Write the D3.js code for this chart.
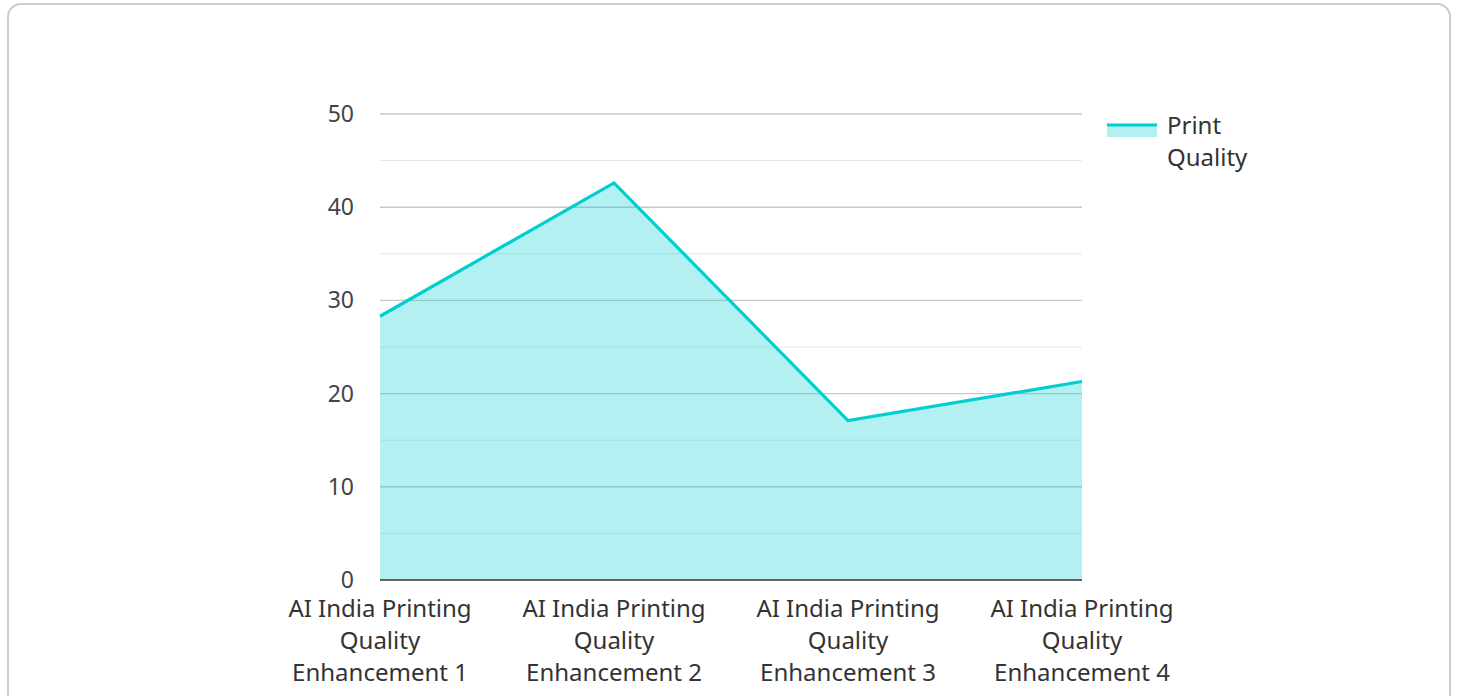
<!DOCTYPE html>
<html><head><meta charset="utf-8">
<script src="https://cdn.jsdelivr.net/npm/d3@7/dist/d3.min.js"></script>
<style>
html,body{margin:0;padding:0;background:#fff;}
svg{display:block;font-family:"Noto Sans","Open Sans",sans-serif;}
</style></head>
<body>
<svg id="chart" width="1458" height="696"></svg>
<script>
const categories = ["AI India Printing Quality Enhancement 1","AI India Printing Quality Enhancement 2","AI India Printing Quality Enhancement 3","AI India Printing Quality Enhancement 4"];
const categoryLines = [["AI India Printing","Quality","Enhancement 1"],["AI India Printing","Quality","Enhancement 2"],["AI India Printing","Quality","Enhancement 3"],["AI India Printing","Quality","Enhancement 4"]];
const seriesName = ["Print","Quality"];
const printQuality = [28.3, 42.6, 17.1, 21.3];
const yTicks = [0,10,20,30,40,50];
const yMinorTicks = [5,15,25,35,45];

const svg = d3.select("#chart");
svg.append("rect").attr("x",8).attr("y",4).attr("width",1442).attr("height",720)
  .attr("rx",13).attr("fill","#fff").attr("stroke","#cccccc").attr("stroke-width",2);

const x = d3.scalePoint().domain(categories).range([380,1082]);
const y = d3.scaleLinear().domain([0,50]).range([580,114]);

const g = svg.append("g");
g.selectAll(".minor").data(yMinorTicks).join("line")
  .attr("x1",380).attr("x2",1082).attr("y1",d=>y(d)).attr("y2",d=>y(d))
  .attr("stroke","#e6e6e6").attr("stroke-width",1);
g.selectAll(".major").data(yTicks.filter(d=>d>0)).join("line")
  .attr("x1",380).attr("x2",1082).attr("y1",d=>y(d)).attr("y2",d=>y(d))
  .attr("stroke","#c8c8c8").attr("stroke-width",1.4);

const area = d3.area().x((d,i)=>x(categories[i])).y0(y(0)).y1(d=>y(d));
const line = d3.line().x((d,i)=>x(categories[i])).y(d=>y(d));
g.append("path").datum(printQuality).attr("d",area).attr("fill","rgba(0,206,209,0.3)");
g.append("path").datum(printQuality).attr("d",line).attr("fill","none")
  .attr("stroke","#00CED1").attr("stroke-width",3.2).attr("stroke-linejoin","miter");

g.append("line").attr("x1",380).attr("x2",1082).attr("y1",y(0)).attr("y2",y(0))
  .attr("stroke","#333").attr("stroke-width",1.5);

g.selectAll(".ytl").data(yTicks).join("text")
  .attr("x",354).attr("y",d=>y(d)).attr("dy","0.35em").attr("text-anchor","end")
  .attr("font-size",23).attr("fill","#444").text(d=>d);

const xl = g.selectAll(".xtl").data(categories).join("text")
  .attr("text-anchor","middle").attr("font-size",24).attr("fill","#333");
xl.each(function(d,i){
  const t = d3.select(this);
  categoryLines[i].forEach((s,j)=>{
    t.append("tspan").attr("x",x(d)).attr("y",617+j*32).text(s);
  });
});

const lg = svg.append("g");
lg.append("rect").attr("x",1107).attr("y",125).attr("width",50).attr("height",12).attr("fill","rgba(0,206,209,0.3)");
lg.append("line").attr("x1",1107).attr("x2",1157).attr("y1",125).attr("y2",125).attr("stroke","#00CED1").attr("stroke-width",3);
lg.append("text").attr("font-size",24).attr("fill","#333")
  .selectAll("tspan").data(seriesName).join("tspan")
  .attr("x",1167).attr("y",(d,i)=>134+i*32).text(d=>d);
</script>
</body></html>
